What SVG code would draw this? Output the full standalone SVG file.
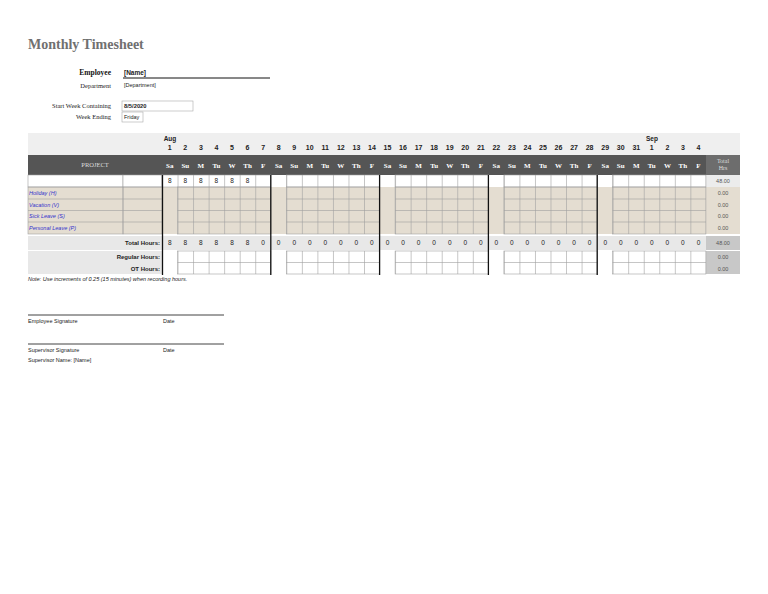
<svg xmlns="http://www.w3.org/2000/svg" width="768" height="594" viewBox="0 0 768 594">
<style>
text{font-family:"Liberation Sans",sans-serif;fill:#222}
.s{font-family:"Liberation Serif",serif}
.n{font-size:6.5px;text-anchor:middle}
.d{font-size:7px;text-anchor:middle;font-weight:bold}
.h{font-size:7px;text-anchor:middle;font-weight:bold;fill:#fff;font-family:"Liberation Serif",serif}
.v{font-size:5.5px;text-anchor:middle;fill:#555}
.lv{font-size:5.5px;font-style:italic;fill:#3333cc}
.lab{font-size:6px;font-weight:bold;text-anchor:end}
.g{stroke:#a0a0a0;stroke-width:0.6;fill:none}
.k{stroke:#111;stroke-width:1.3}
</style>
<defs>
<pattern id="vl" patternUnits="userSpaceOnUse" x="162" y="0" width="15.54" height="10"><path d="M0 0V10" stroke="#a0a0a0" stroke-width="1.2"/></pattern>
</defs>
<rect width="768" height="594" fill="#fff"/>
<g id="header">
<text x="28" y="49" class="s" font-size="14" font-weight="bold" style="fill:#707070">Monthly Timesheet</text>
<text x="111" y="75" class="s" font-size="7.5" font-weight="bold" text-anchor="end" style="fill:#111">Employee</text>
<text x="124" y="75" font-size="6.5" font-weight="bold">[Name]</text>
<line x1="123" y1="78" x2="270" y2="78" stroke="#111" stroke-width="1"/>
<text x="111" y="88" class="s" font-size="6.5" text-anchor="end">Department</text>
<text x="124" y="87" font-size="5.5">[Department]</text>
<text x="111" y="108" class="s" font-size="6.5" text-anchor="end">Start Week Containing</text>
<rect x="122" y="101" width="71" height="10" fill="#fff" stroke="#aaa" stroke-width="0.6"/>
<text x="124" y="108" font-size="5.8" font-weight="bold">8/5/2020</text>
<text x="111" y="119" class="s" font-size="6.5" text-anchor="end">Week Ending</text>
<rect x="122" y="112" width="21" height="10" fill="#fff" stroke="#aaa" stroke-width="0.6"/>
<text x="124" y="119" font-size="5.5">Friday</text>
</g>
<g id="table">
<rect x="28" y="133" width="712" height="22" fill="#efefef"/>
<rect x="28" y="155" width="712" height="20" fill="#555"/>
<rect x="706" y="155" width="34" height="20" fill="#6d6d6d"/>
<text x="95" y="167" class="s" font-size="6.5" text-anchor="middle" style="fill:#dddddd">PROJECT</text>
<text x="723" y="163" class="s" font-size="6" text-anchor="middle" style="fill:#dddddd">Total</text>
<text x="723" y="170" class="s" font-size="6" text-anchor="middle" style="fill:#dddddd">Hrs</text>
<text x="170" y="141" font-size="6.5" font-weight="bold" text-anchor="middle">Aug</text>
<text x="652" y="141" font-size="6.5" font-weight="bold" text-anchor="middle">Sep</text>
<rect x="28" y="187" width="678" height="47" fill="#e4ddd1"/>
<rect x="706" y="175" width="34" height="12" fill="#ececec"/>
<rect x="706" y="187" width="34" height="47" fill="#e4ddd1"/>
<rect x="28" y="236" width="678" height="14" fill="#e8e8e8"/>
<rect x="706" y="236" width="34" height="14" fill="#c8c8c8"/>
<rect x="28" y="251" width="134" height="23" fill="#e8e8e8"/>
<rect x="706" y="251" width="34" height="23" fill="#c8c8c8"/>
<rect x="28" y="175" width="95" height="12" fill="#fff" stroke="#a0a0a0" stroke-width="0.6"/>
<rect x="123" y="175" width="39" height="12" fill="#fff" stroke="#a0a0a0" stroke-width="0.6"/>
<rect x="28" y="187" width="95" height="47" class="g"/>
<rect x="123" y="187" width="39" height="47" class="g"/>
<path d="M28 199H162M28 210.5H162M28 222H162" class="g"/>
<text x="29" y="195" class="lv">Holiday (H)</text>
<text x="29" y="207" class="lv">Vacation (V)</text>
<text x="29" y="218" class="lv">Sick Leave (S)</text>
<text x="29" y="230" class="lv">Personal Leave (P)</text>
<text x="160" y="245" class="lab">Total Hours:</text>
<text x="160" y="259" class="lab">Regular Hours:</text>
<text x="160" y="271" class="lab">OT Hours:</text>
<g id="grids">
<rect x="162" y="175" width="108.8" height="12" fill="#fff"/><rect x="162" y="175" width="108.8" height="12" fill="url(#vl)"/><rect x="162" y="175" width="108.8" height="12" class="g"/>
<rect x="286.3" y="175" width="93.3" height="12" fill="#fff"/><rect x="286.3" y="175" width="93.3" height="12" fill="url(#vl)"/><rect x="286.3" y="175" width="93.3" height="12" class="g"/>
<rect x="395.1" y="175" width="93.3" height="12" fill="#fff"/><rect x="395.1" y="175" width="93.3" height="12" fill="url(#vl)"/><rect x="395.1" y="175" width="93.3" height="12" class="g"/>
<rect x="503.9" y="175" width="93.3" height="12" fill="#fff"/><rect x="503.9" y="175" width="93.3" height="12" fill="url(#vl)"/><rect x="503.9" y="175" width="93.3" height="12" class="g"/>
<rect x="612.6" y="175" width="93.3" height="12" fill="#fff"/><rect x="612.6" y="175" width="93.3" height="12" fill="url(#vl)"/><rect x="612.6" y="175" width="93.3" height="12" class="g"/>
<rect x="177.5" y="187" width="93.3" height="47" fill="url(#vl)"/><rect x="177.5" y="187" width="93.3" height="47" class="g"/>
<rect x="286.3" y="187" width="93.3" height="47" fill="url(#vl)"/><rect x="286.3" y="187" width="93.3" height="47" class="g"/>
<rect x="395.1" y="187" width="93.3" height="47" fill="url(#vl)"/><rect x="395.1" y="187" width="93.3" height="47" class="g"/>
<rect x="503.9" y="187" width="93.3" height="47" fill="url(#vl)"/><rect x="503.9" y="187" width="93.3" height="47" class="g"/>
<rect x="612.6" y="187" width="93.3" height="47" fill="url(#vl)"/><rect x="612.6" y="187" width="93.3" height="47" class="g"/>
<path d="M177.5 199H270.8M177.5 210.5H270.8M177.5 222H270.8M286.3 199H379.6M286.3 210.5H379.6M286.3 222H379.6M395.1 199H488.4M395.1 210.5H488.4M395.1 222H488.4M503.9 199H597.2M503.9 210.5H597.2M503.9 222H597.2M612.6 199H706M612.6 210.5H706M612.6 222H706" class="g"/>
<rect x="177.5" y="251" width="93.3" height="23" fill="#fff"/><rect x="177.5" y="251" width="93.3" height="23" fill="url(#vl)"/><rect x="177.5" y="251" width="93.3" height="23" class="g"/>
<rect x="286.3" y="251" width="93.3" height="23" fill="#fff"/><rect x="286.3" y="251" width="93.3" height="23" fill="url(#vl)"/><rect x="286.3" y="251" width="93.3" height="23" class="g"/>
<rect x="395.1" y="251" width="93.3" height="23" fill="#fff"/><rect x="395.1" y="251" width="93.3" height="23" fill="url(#vl)"/><rect x="395.1" y="251" width="93.3" height="23" class="g"/>
<rect x="503.9" y="251" width="93.3" height="23" fill="#fff"/><rect x="503.9" y="251" width="93.3" height="23" fill="url(#vl)"/><rect x="503.9" y="251" width="93.3" height="23" class="g"/>
<rect x="612.6" y="251" width="93.3" height="23" fill="#fff"/><rect x="612.6" y="251" width="93.3" height="23" fill="url(#vl)"/><rect x="612.6" y="251" width="93.3" height="23" class="g"/>
<path d="M177.5 262.5H270.8M286.3 262.5H379.6M395.1 262.5H488.4M503.9 262.5H597.2M612.6 262.5H706" class="g"/>
</g>
<path d="M162.5 175V275M270.8 175V275M379.6 175V275M488.4 175V275M597.2 175V275" class="k"/>
<g>
<text x="169.8" y="150" class="d">1</text><text x="185.3" y="150" class="d">2</text><text x="200.9" y="150" class="d">3</text><text x="216.4" y="150" class="d">4</text><text x="232" y="150" class="d">5</text><text x="247.5" y="150" class="d">6</text><text x="263.1" y="150" class="d">7</text>
<text x="278.6" y="150" class="d">8</text><text x="294.2" y="150" class="d">9</text><text x="309.7" y="150" class="d">10</text><text x="325.3" y="150" class="d">11</text><text x="340.8" y="150" class="d">12</text><text x="356.4" y="150" class="d">13</text><text x="371.9" y="150" class="d">14</text>
<text x="387.5" y="150" class="d">15</text><text x="403" y="150" class="d">16</text><text x="418.6" y="150" class="d">17</text><text x="434.1" y="150" class="d">18</text><text x="449.7" y="150" class="d">19</text><text x="465.2" y="150" class="d">20</text><text x="480.8" y="150" class="d">21</text>
<text x="496.3" y="150" class="d">22</text><text x="511.9" y="150" class="d">23</text><text x="527.4" y="150" class="d">24</text><text x="543" y="150" class="d">25</text><text x="558.5" y="150" class="d">26</text><text x="574.1" y="150" class="d">27</text><text x="589.6" y="150" class="d">28</text>
<text x="605.2" y="150" class="d">29</text><text x="620.7" y="150" class="d">30</text><text x="636.3" y="150" class="d">31</text><text x="651.8" y="150" class="d">1</text><text x="667.4" y="150" class="d">2</text><text x="682.9" y="150" class="d">3</text><text x="698.5" y="150" class="d">4</text>
</g>
<text x="169.8" y="168" class="h">Sa</text><text x="185.3" y="168" class="h">Su</text><text x="200.9" y="168" class="h">M</text><text x="216.4" y="168" class="h">Tu</text><text x="232" y="168" class="h">W</text><text x="247.5" y="168" class="h">Th</text><text x="263.1" y="168" class="h">F</text>
<text x="278.6" y="168" class="h">Sa</text><text x="294.2" y="168" class="h">Su</text><text x="309.7" y="168" class="h">M</text><text x="325.3" y="168" class="h">Tu</text><text x="340.8" y="168" class="h">W</text><text x="356.4" y="168" class="h">Th</text><text x="371.9" y="168" class="h">F</text>
<text x="387.5" y="168" class="h">Sa</text><text x="403" y="168" class="h">Su</text><text x="418.6" y="168" class="h">M</text><text x="434.1" y="168" class="h">Tu</text><text x="449.7" y="168" class="h">W</text><text x="465.2" y="168" class="h">Th</text><text x="480.8" y="168" class="h">F</text>
<text x="496.3" y="168" class="h">Sa</text><text x="511.9" y="168" class="h">Su</text><text x="527.4" y="168" class="h">M</text><text x="543" y="168" class="h">Tu</text><text x="558.5" y="168" class="h">W</text><text x="574.1" y="168" class="h">Th</text><text x="589.6" y="168" class="h">F</text>
<text x="605.2" y="168" class="h">Sa</text><text x="620.7" y="168" class="h">Su</text><text x="636.3" y="168" class="h">M</text><text x="651.8" y="168" class="h">Tu</text><text x="667.4" y="168" class="h">W</text><text x="682.9" y="168" class="h">Th</text><text x="698.5" y="168" class="h">F</text>
<text x="169.8" y="183" class="n">8</text><text x="185.3" y="183" class="n">8</text><text x="200.9" y="183" class="n">8</text><text x="216.4" y="183" class="n">8</text><text x="232" y="183" class="n">8</text><text x="247.5" y="183" class="n">8</text>
<text x="169.8" y="245" class="n">8</text><text x="185.3" y="245" class="n">8</text><text x="200.9" y="245" class="n">8</text><text x="216.4" y="245" class="n">8</text><text x="232" y="245" class="n">8</text><text x="247.5" y="245" class="n">8</text><text x="263.1" y="245" class="n">0</text>
<text x="278.6" y="245" class="n">0</text><text x="294.2" y="245" class="n">0</text><text x="309.7" y="245" class="n">0</text><text x="325.3" y="245" class="n">0</text><text x="340.8" y="245" class="n">0</text><text x="356.4" y="245" class="n">0</text><text x="371.9" y="245" class="n">0</text>
<text x="387.5" y="245" class="n">0</text><text x="403" y="245" class="n">0</text><text x="418.6" y="245" class="n">0</text><text x="434.1" y="245" class="n">0</text><text x="449.7" y="245" class="n">0</text><text x="465.2" y="245" class="n">0</text><text x="480.8" y="245" class="n">0</text>
<text x="496.3" y="245" class="n">0</text><text x="511.9" y="245" class="n">0</text><text x="527.4" y="245" class="n">0</text><text x="543" y="245" class="n">0</text><text x="558.5" y="245" class="n">0</text><text x="574.1" y="245" class="n">0</text><text x="589.6" y="245" class="n">0</text>
<text x="605.2" y="245" class="n">0</text><text x="620.7" y="245" class="n">0</text><text x="636.3" y="245" class="n">0</text><text x="651.8" y="245" class="n">0</text><text x="667.4" y="245" class="n">0</text><text x="682.9" y="245" class="n">0</text><text x="698.5" y="245" class="n">0</text>
<text x="723" y="183" class="v">48.00</text>
<text x="723" y="195" class="v">0.00</text>
<text x="723" y="207" class="v">0.00</text>
<text x="723" y="218" class="v">0.00</text>
<text x="723" y="230" class="v">0.00</text>
<text x="723" y="245" class="v">48.00</text>
<text x="723" y="259" class="v">0.00</text>
<text x="723" y="271" class="v">0.00</text>
<text x="28" y="281" font-size="5.5" font-style="italic">Note: Use increments of 0.25 (15 minutes) when recording hours.</text>
</g>
<g id="signatures">
<line x1="28" y1="315" x2="224" y2="315" stroke="#111" stroke-width="0.8"/>
<text x="28" y="323" font-size="5.5">Employee Signature</text>
<text x="163" y="323" font-size="5.5">Date</text>
<line x1="28" y1="344" x2="224" y2="344" stroke="#111" stroke-width="0.8"/>
<text x="28" y="352" font-size="5.5">Supervisor Signature</text>
<text x="163" y="352" font-size="5.5">Date</text>
<text x="28" y="362" font-size="5.5">Supervisor Name: [Name]</text>
</g>
</svg>
